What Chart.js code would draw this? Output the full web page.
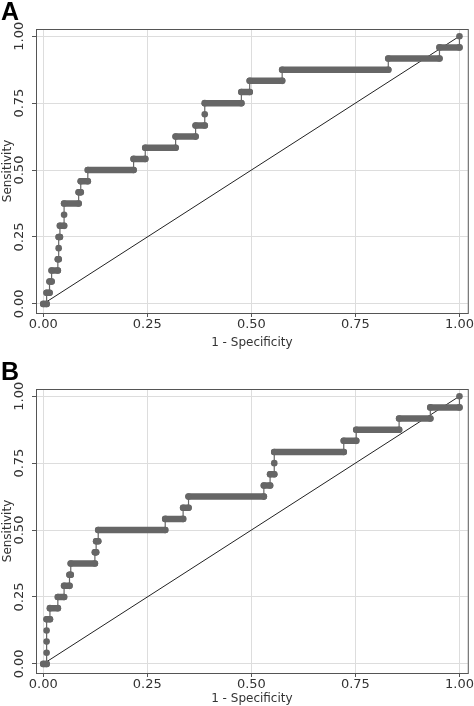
<!DOCTYPE html>
<html>
<head>
    <script src="https://cdn.jsdelivr.net/npm/chart.js"></script>
    <style>
        body { margin: 0; background: #fff; font-family: 'Liberation Sans', sans-serif; }
        .panel { position: relative; width: 474px; }
        .tag { position: absolute; left: 1px; top: -3px; font: bold 25px 'Liberation Sans', Arial, sans-serif; color: #000; }
    </style>
</head>
<body>
    <div class="panel" style="height:360px"><div class="tag">A</div><canvas id="chartA"></canvas></div>
    <div class="panel" style="height:346px"><div class="tag">B</div><canvas id="chartB"></canvas></div>

    <script>
        // Sensitivity levels are k/24; each level starts at the given 1 - specificity
        const levels = [0,1,2,3,4,5,6,7,8,9,10,11,12,13,14,15,16,17,18,19,20,21,22,23,24];
        const startsA = [0,0.008,0.015,0.02,0.035,0.037,0.037,0.04,0.05,0.05,0.085,0.09,0.107,0.217,0.245,0.318,0.366,0.388,0.388,0.476,0.496,0.574,0.829,0.952,1.0];
        const startsB = [0,0.008,0.008,0.008,0.008,0.016,0.035,0.05,0.063,0.066,0.124,0.127,0.132,0.293,0.336,0.349,0.53,0.545,0.555,0.555,0.722,0.752,0.855,0.93,1.0];
        const tickValues = [0, 0.25, 0.5, 0.75, 1];
        const tickLabels = ['0.00', '0.25', '0.50', '0.75', '1.00'];

        function rocPoints(starts) {
            const pts = [];
            levels.forEach((k, i) => {
                const end = i < starts.length - 1 ? starts[i + 1] : starts[i];
                pts.push({ x: starts[i], y: k / 24 });
                if (end !== starts[i]) pts.push({ x: end, y: k / 24 });
            });
            return pts;
        }

        const framePlugin = {
            id: 'frame',
            afterDraw(chart) {
                const { ctx, chartArea: a, scales } = chart;
                ctx.save();
                ctx.strokeStyle = '#555';
                ctx.lineWidth = 1;
                ctx.strokeRect(a.left + 0.5, a.top + 0.5, a.right - a.left, a.bottom - a.top);
                ctx.fillStyle = '#333';
                ctx.font = '13px "DejaVu Sans", sans-serif';
                ctx.textAlign = 'center';
                ctx.textBaseline = 'middle';
                tickValues.forEach((v, i) => {
                    const y = scales.y.getPixelForValue(v);
                    ctx.save();
                    ctx.translate(20, y);
                    ctx.rotate(-Math.PI / 2);
                    ctx.fillText(tickLabels[i], 0, 0);
                    ctx.restore();
                });
                ctx.font = '12px "DejaVu Sans", sans-serif';
                ctx.translate(8, (a.top + a.bottom) / 2);
                ctx.rotate(-Math.PI / 2);
                ctx.fillText('Sensitivity', 0, 0);
                ctx.restore();
            }
        };

        function makeChart(id, starts, xHeight, padBottom) {
            return new Chart(document.getElementById(id), {
                type: 'line',
                data: {
                    datasets: [
                        {
                            data: rocPoints(starts),
                            borderColor: '#666',
                            backgroundColor: '#666',
                            borderCapStyle: 'round',
                            pointRadius: 3.3,
                            pointBorderWidth: 0,
                            segment: {
                                borderWidth: c => c.p0.parsed.y === c.p1.parsed.y ? 6.5 : 1.2
                            },
                            order: 1
                        },
                        {
                            data: [{ x: 0, y: 0 }, { x: 1, y: 1 }],
                            borderColor: '#222',
                            borderWidth: 1,
                            pointRadius: 0,
                            order: 2
                        }
                    ]
                },
                options: {
                    responsive: true,
                    maintainAspectRatio: false,
                    animation: false,
                    layout: { padding: { top: 29, right: 4, bottom: padBottom, left: 0 } },
                    plugins: { legend: { display: false }, tooltip: { enabled: false } },
                    scales: {
                        x: {
                            type: 'linear',
                            min: -0.0175,
                            max: 1.02,
                            afterBuildTicks: s => { s.ticks = tickValues.map(v => ({ value: v })); },
                            afterFit: s => { s.height = xHeight; },
                            grid: { color: '#ddd', drawTicks: true, tickLength: 4, tickColor: '#555' },
                            border: { display: false },
                            ticks: {
                                color: '#333',
                                font: { size: 13, family: 'DejaVu Sans' },
                                padding: 0,
                                maxRotation: 0,
                                callback: v => tickLabels[tickValues.indexOf(v)]
                            },
                            title: {
                                display: true,
                                text: '1 - Specificity',
                                color: '#333',
                                font: { size: 12, family: 'DejaVu Sans' },
                                padding: { top: -3, bottom: 0 }
                            }
                        },
                        y: {
                            type: 'linear',
                            min: -0.034,
                            max: 1.027,
                            afterBuildTicks: s => { s.ticks = tickValues.map(v => ({ value: v })); },
                            afterFit: s => { s.width = 36; },
                            grid: { color: '#ddd', drawTicks: true, tickLength: 4, tickColor: '#555' },
                            border: { display: false },
                            ticks: { display: false }
                        }
                    }
                },
                plugins: [framePlugin]
            });
        }

        makeChart('chartA', startsA, 37, 10);
        makeChart('chartB', startsB, 33, 0);
    </script>
</body>
</html>
